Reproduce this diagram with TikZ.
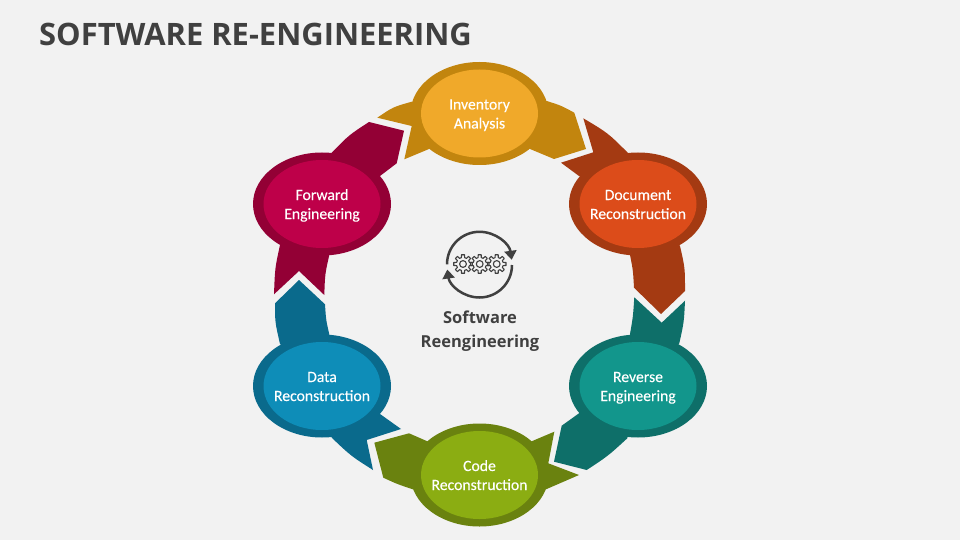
\documentclass[tikz,border=0pt]{standalone}
\usepackage{fontspec}
\setmainfont{Carlito}
\newfontfamily\labelfont{Carlito}[FakeBold=0.18]
\newfontfamily\titlefont{Open Sans}[BoldFont={Open Sans Bold}]
\usetikzlibrary{shapes.geometric,arrows.meta}
\definecolor{bgc}{HTML}{F2F2F2}
\definecolor{ink}{HTML}{404040}
\definecolor{goldO}{HTML}{C2850E}\definecolor{goldI}{HTML}{F0A92A}
\definecolor{rustO}{HTML}{A43A12}\definecolor{rustI}{HTML}{DC4C1A}
\definecolor{tealO}{HTML}{0E6F69}\definecolor{tealI}{HTML}{12968C}
\definecolor{oliveO}{HTML}{6A820F}\definecolor{oliveI}{HTML}{8BAD12}
\definecolor{blueO}{HTML}{0A6A8C}\definecolor{blueI}{HTML}{0E8DB8}
\definecolor{wineO}{HTML}{930035}\definecolor{wineI}{HTML}{BE0049}
\tikzset{
 ringouter/.style={ellipse,minimum width=138pt,minimum height=103pt,inner sep=0pt,fill=#1},
 ringinner/.style={ellipse,minimum width=117pt,minimum height=88pt,inner sep=0pt,fill=#1},
 ringlabel/.style={inner sep=0pt,text=white,align=center,font=\labelfont\fontsize{15.7}{19}\selectfont,yshift=-1.7pt},
 gearline/.style={draw=ink,line width=1.1pt,line join=round},
 cycleline/.style={draw=ink,line width=2.5pt,-{Triangle[length=9pt,width=12pt]}}
}
\newcommand{\gearat}[2]{%
 \draw[gearline] ({#1+6.6*cos(-14)},{#2+6.6*sin(-14)})
  \foreach \a in {0,45,...,315}{
   -- ({#1+6.6*cos(\a-14)},{#2+6.6*sin(\a-14)})
   -- ({#1+9.4*cos(\a-9)},{#2+9.4*sin(\a-9)})
   -- ({#1+9.4*cos(\a+9)},{#2+9.4*sin(\a+9)})
   -- ({#1+6.6*cos(\a+14)},{#2+6.6*sin(\a+14)})
  } -- cycle;
 \draw[gearline] (#1,#2) circle[radius=3.4];
}
\newcommand{\twolines}[2]{\strut #1\\\strut #2}
\begin{document}
\begin{tikzpicture}[x=1pt,y=-1pt]
\useasboundingbox[fill=bgc] (0,0) rectangle (960,540);
\coordinate (c1) at (479.5,113.5);
\coordinate (c2) at (638,204);
\coordinate (c3) at (638,386);
\coordinate (c4) at (479.5,475);
\coordinate (c5) at (322,386);
\coordinate (c6) at (322,204);
% gold
\fill[goldO] (c1) -- (411.7,101.7) .. controls (393,107) .. (377.3,117.7) -- (411.7,126) -- (404.3,159.3) -- (429,149) -- cycle;
\fill[goldO] (c1) -- (546.7,101) .. controls (561,105.5) .. (574.3,112.7) -- (586,149) -- (554,159) -- (530,149) -- cycle;
% rust
\fill[rustO] (c2) -- (627.7,152.7) .. controls (608,133) .. (583.3,118.3) -- (593.3,152.3) -- (561,162.7) -- (579,176) -- cycle;
\fill[rustO] (c2) -- (680,246) .. controls (685,268) .. (685,291) -- (661,314) -- (634,287.7) .. controls (633,270) .. (630,255) -- cycle;
% teal
\fill[tealO] (c3) -- (630,334) .. controls (633,317) .. (634.3,297.3) -- (661.7,322.7) -- (685,300.7) .. controls (684,322) .. (679.3,343.3) -- cycle;
\fill[tealO] (c3) -- (579,413.3) -- (561.7,425.7) -- (554,461.7) -- (586.7,470) .. controls (608,456) .. (627.3,438.3) -- cycle;
% olive
\fill[oliveO] (c4) -- (532.3,441) -- (554.3,431.7) -- (548.3,463.3) -- (579,475) .. controls (562,483) .. (546,489.3) -- cycle;
\fill[oliveO] (c4) -- (426.7,441) -- (409,433.3) -- (374.3,442.7) -- (383.3,477.7) .. controls (397,484) .. (412.7,489.3) -- cycle;
% blue
\fill[blueO] (c5) -- (380,414) -- (401,429) -- (366.7,440) -- (373,470) .. controls (351,456) .. (331.7,437.7) -- cycle;
\fill[blueO] (c5) -- (280,344) .. controls (275,322) .. (275,303.3) -- (299,280) -- (325,304.3) .. controls (326,320) .. (329.3,334.3) -- cycle;
% wine
\fill[wineO] (c6) -- (280,245) .. controls (275,268) .. (274,294.3) -- (299,271) -- (324.3,295) .. controls (325,274) .. (329.3,255) -- cycle;
\fill[wineO] (c6) -- (331.7,152.7) .. controls (349,135) .. (369,122) -- (404,130.7) -- (396.7,163.3) -- (380,176) -- cycle;
% ellipses
\node[ringouter=goldO] (o1) at (c1) {};
\node[ringinner=goldI] (n1) at (c1) {};
\node[ringlabel] (t1) at (c1) {\twolines{Inventory}{Analysis}};
\node[ringouter=rustO] (o2) at (c2) {};
\node[ringinner=rustI] (n2) at (c2) {};
\node[ringlabel] (t2) at (c2) {\twolines{Document}{Reconstruction}};
\node[ringouter=tealO] (o3) at (c3) {};
\node[ringinner=tealI] (n3) at (c3) {};
\node[ringlabel] (t3) at (c3) {\twolines{Reverse}{Engineering}};
\node[ringouter=oliveO] (o4) at (c4) {};
\node[ringinner=oliveI] (n4) at (c4) {};
\node[ringlabel] (t4) at (c4) {\twolines{Code}{Reconstruction}};
\node[ringouter=blueO] (o5) at (c5) {};
\node[ringinner=blueI] (n5) at (c5) {};
\node[ringlabel] (t5) at (c5) {\twolines{Data}{Reconstruction}};
\node[ringouter=wineO] (o6) at (c6) {};
\node[ringinner=wineI] (n6) at (c6) {};
\node[ringlabel] (t6) at (c6) {\twolines{Forward}{Engineering}};
% title
\node[anchor=base west,inner sep=0pt,text=ink,font=\titlefont\bfseries\fontsize{30.9}{36}\selectfont] (title) at (39,45.5) {SOFTWARE RE-ENGINEERING};
% center
\node[text=ink,align=center,inner sep=0pt,font=\titlefont\bfseries\fontsize{16.5}{24}\selectfont] (center) at (480,331) {Software\\Reengineering};
% icon
\draw[cycleline] (447,264.3) arc[start angle=180,end angle=352,radius=32.5];
\draw[cycleline] (512,265) arc[start angle=0,end angle=172,radius=32.5];
\gearat{463}{264}
\gearat{479.7}{264}
\gearat{496.7}{264}
\end{tikzpicture}
\end{document}
